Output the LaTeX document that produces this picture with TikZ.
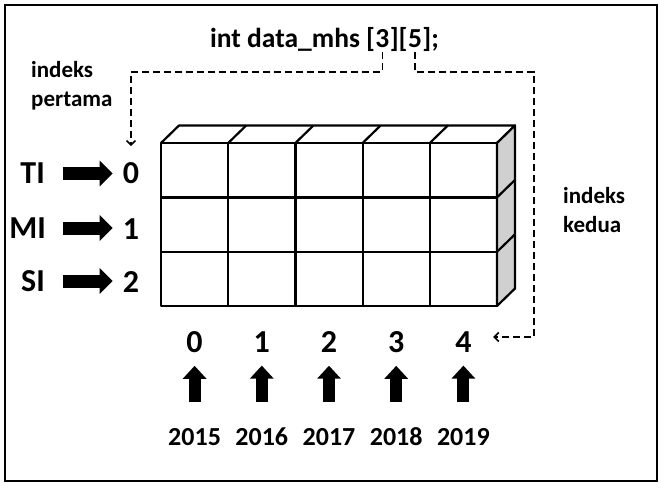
\documentclass[tikz,border=0pt]{standalone}
\usepackage{fontspec}
\setmainfont{Carlito}
\usetikzlibrary{arrows.meta}
\definecolor{sidegray}{RGB}{208,208,208}
\begin{document}
\begin{tikzpicture}[x=1pt,y=-1pt,
  txt/.style={font=\bfseries\fontsize{#1}{#1}\selectfont, inner sep=0pt, text=black},
  ttl/.style={txt=27.5, anchor=base west},
  lbl/.style={txt=23, anchor=base west},
  big/.style={txt=32},
  yr/.style={txt=26},
  cube/.style={line width=2.2pt, line join=round},
  dashline/.style={line width=1.6pt, dash pattern=on 7pt off 4pt, -{Straight Barb[length=4.5pt,width=9pt]}},
  blockarrow/.style={line width=13pt, -{Triangle[length=13pt,width=25pt]}},
  uparrow/.style={line width=12pt, -{Triangle[length=13pt,width=23pt]}}
]
\useasboundingbox (0,0) rectangle (664,488);
\draw[line width=2.5pt] (5,5) rectangle (657,481);

% title
\node[ttl] (t1) at (210,47) {int data\_mhs [};
\node[ttl] (t3) at (t1.base east) {3};
\node[ttl] (t4) at (t3.base east) {][};
\node[ttl] (t5) at (t4.base east) {5};
\node[ttl] (t6) at (t5.base east) {];};

% labels
\node[lbl] (ip1) at (31,77) {indeks};
\node[lbl] (ip2) at (31,106) {pertama};
\node[lbl] (ik1) at (563,203) {indeks};
\node[lbl] (ik2) at (563,232) {kedua};

% cube
\fill[white] (161,143) -- (179,125.5) -- (515,125.5) -- (497,143) -- cycle;
\draw[cube] (161,143) -- (179,125.5) -- (515,125.5) -- (497,143);
\filldraw[cube, fill=sidegray] (497,143) -- (515,125.5) -- (515,288.5) -- (497,306) -- cycle;
\foreach \i in {1,...,4} \draw[cube] ({161+67.2*\i},143) -- ++(18,-17.5);
\foreach \j in {1,2} \draw[cube] (497,{143+54.4*\j}) -- ++(18,-17.5);
\draw[cube] (161,143) rectangle (497,306);
\foreach \i in {1,...,4} \draw[cube] ({161+67.2*\i},143) -- ++(0,163);
\foreach \j in {1,2} \draw[cube] (161,{143+54.4*\j}) -- ++(336,0);

% rows
\node[big, anchor=east] (TI) at (45,173.5) {TI};
\node[big, anchor=east] (MI) at (46,228) {MI};
\node[big, anchor=east] (SI) at (45,281) {SI};
\node[big] (r0) at (131,173.5) {0};
\node[big] (r1) at (131,229) {1};
\node[big] (r2) at (131,282) {2};
\draw[blockarrow, shorten <=18pt, shorten >=10pt] (TI.east) -- (TI.east -| r0.west);
\draw[blockarrow, shorten <=17pt, shorten >=10pt] (MI.east) -- (MI.east -| r1.west);
\draw[blockarrow, shorten <=18pt, shorten >=10pt] (SI.east) -- (SI.east -| r2.west);

% columns
\foreach \i/\y in {0/2015,1/2016,2/2017,3/2018,4/2019}{
  \node[big] (c\i) at ({161+67.2*(\i+0.5)},342) {\i};
  \node[yr] (y\i) at ({161+67.2*(\i+0.5)},437) {\y};
  \draw[uparrow, shorten <=26pt, shorten >=13pt] (y\i.north) -- (c\i.south);
}

% dashed index connectors
\draw[dashline, shorten >=16.5pt] ([yshift=-5pt]t3.south) -- (t3.south |- 0,72) -| (r0.north);
\coordinate (k2) at (534,337);
\draw[dashline, shorten >=21.5pt] ([yshift=-5pt]t5.south) -- (t5.south |- 0,72) -| (k2) -- (k2 -| c4.east);
\end{tikzpicture}
\end{document}
